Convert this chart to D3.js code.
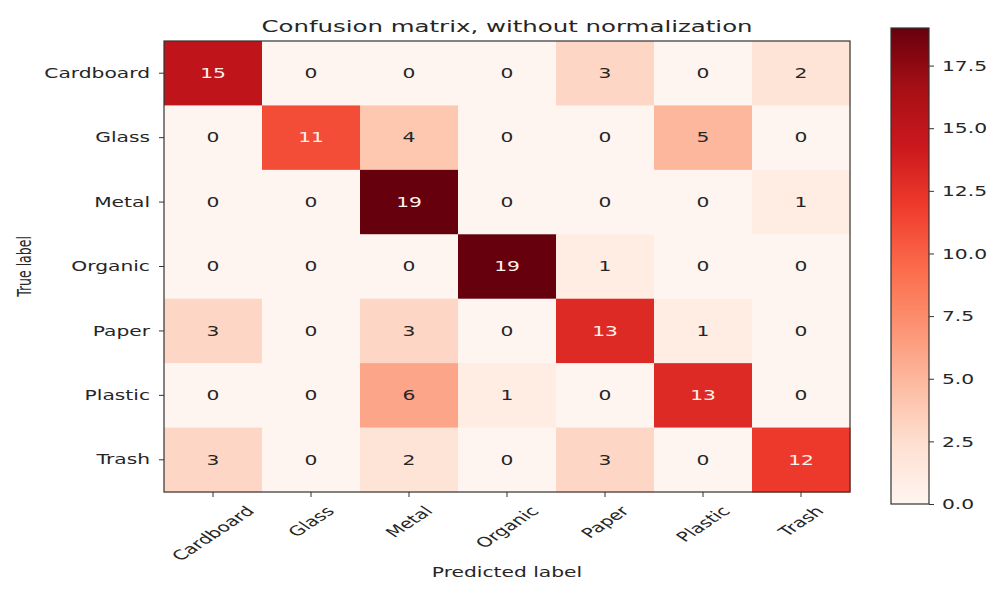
<!DOCTYPE html>
<html>
<head>
<meta charset="utf-8">
<script src="https://cdn.jsdelivr.net/npm/d3@7"></script>
<style>
  body { margin: 0; background: #fff; }
  text { font-family: "DejaVu Sans", sans-serif; fill: #262626; }
</style>
</head>
<body>
<svg id="chart" width="1006" height="600"></svg>
<script>
// class names, same on both axes
const classes = ["Cardboard", "Glass", "Metal", "Organic", "Paper", "Plastic", "Trash"];

// rows = true label, columns = predicted label
const cmCardboard = [15, 0, 0, 0, 3, 0, 2];
const cmGlass     = [0, 11, 4, 0, 0, 5, 0];
const cmMetal     = [0, 0, 19, 0, 0, 0, 1];
const cmOrganic   = [0, 0, 0, 19, 1, 0, 0];
const cmPaper     = [3, 0, 3, 0, 13, 1, 0];
const cmPlastic   = [0, 0, 6, 1, 0, 13, 0];
const cmTrash     = [3, 0, 2, 0, 3, 0, 12];
const matrix = [cmCardboard, cmGlass, cmMetal, cmOrganic, cmPaper, cmPlastic, cmTrash];

const colorTicks = [0, 2.5, 5, 7.5, 10, 12.5, 15, 17.5];

const svg = d3.select("#chart");
const sx = 1.5; // the picture is stretched horizontally
const fs = "13.5px";

const plot = { left: 164, right: 850, top: 41, bottom: 492 };
const bar = { left: 891, right: 929, top: 28, bottom: 504 };

const vmax = d3.max(matrix, r => d3.max(r));

// matplotlib "Reds": linear segments between the 9 brewer colours
const reds = d3.schemeReds[9];
const color = d3.scaleLinear()
  .domain(d3.range(9).map(i => i * vmax / 8))
  .range(reds)
  .interpolate(d3.interpolateRgb)
  .clamp(true);

const x = d3.scaleBand().domain(classes).range([plot.left, plot.right]);
const y = d3.scaleBand().domain(classes).range([plot.top, plot.bottom]);

const cells = [];
matrix.forEach((row, i) => row.forEach((v, j) => cells.push({ t: classes[i], p: classes[j], v })));

svg.append("g")
  .selectAll("rect")
  .data(cells)
  .join("rect")
  .attr("x", d => x(d.p))
  .attr("y", d => y(d.t))
  .attr("width", x.bandwidth() + 0.5)
  .attr("height", y.bandwidth() + 0.5)
  .attr("fill", d => color(d.v));

svg.append("g")
  .selectAll("text")
  .data(cells)
  .join("text")
  .attr("transform", d => `translate(${x(d.p) + x.bandwidth() / 2},${y(d.t) + y.bandwidth() / 2}) scale(${sx},1)`)
  .attr("text-anchor", "middle")
  .attr("dy", "0.35em")
  .style("font-size", fs)
  .style("fill", d => d.v > vmax / 2 ? "#fff0ea" : "#262626")
  .text(d => d.v);

// frame
svg.append("rect")
  .attr("x", plot.left).attr("y", plot.top)
  .attr("width", plot.right - plot.left).attr("height", plot.bottom - plot.top)
  .attr("fill", "none").attr("stroke", "#333").attr("stroke-width", 1.2);

// y axis
const yAxis = svg.append("g")
  .attr("transform", `translate(${plot.left},0)`)
  .call(d3.axisLeft(y).tickSize(5));
yAxis.select(".domain").remove();
yAxis.selectAll("line").attr("stroke", "#333");
yAxis.selectAll("text")
  .attr("x", null).attr("dy", null)
  .attr("transform", `translate(-14,0) scale(${sx},1)`)
  .attr("dominant-baseline", "central")
  .style("font-size", fs).style("font-family", "DejaVu Sans").style("fill", "#262626");

// x axis, labels rotated 45 and centred under the tick
const xAxis = svg.append("g")
  .attr("transform", `translate(0,${plot.bottom})`)
  .call(d3.axisBottom(x).tickSize(5));
xAxis.select(".domain").remove();
xAxis.selectAll("line").attr("stroke", "#333");
xAxis.selectAll("text")
  .attr("y", null).attr("dy", null)
  .attr("text-anchor", "middle")
  .attr("dominant-baseline", "central")
  .style("font-size", fs).style("font-family", "DejaVu Sans").style("fill", "#262626")
  .attr("transform", function () {
    const w = this.getComputedTextLength();
    const h = 13;
    const half = (w + h) * Math.SQRT1_2 / 2;
    return `translate(0,${12 + half}) scale(${sx},1) rotate(-45)`;
  });

// titles
svg.append("text")
  .attr("transform", `translate(${(plot.left + plot.right) / 2},32) scale(${sx},1)`)
  .attr("text-anchor", "middle")
  .style("font-size", "16.3px")
  .text("Confusion matrix, without normalization");

svg.append("text")
  .attr("transform", `translate(${(plot.left + plot.right) / 2},577) scale(${sx},1)`)
  .attr("text-anchor", "middle")
  .style("font-size", fs)
  .text("Predicted label");

svg.append("text")
  .attr("transform", `translate(31,${(plot.top + plot.bottom) / 2}) scale(${sx},1) rotate(-90)`)
  .attr("text-anchor", "middle")
  .style("font-size", "12.5px")
  .text("True label");

// colorbar
const cScale = d3.scaleLinear().domain([0, vmax]).range([bar.bottom, bar.top]);
const defs = svg.append("defs");
const grad = defs.append("linearGradient")
  .attr("id", "cbar").attr("x1", 0).attr("y1", 1).attr("x2", 0).attr("y2", 0);
grad.selectAll("stop")
  .data(d3.range(9))
  .join("stop")
  .attr("offset", d => d / 8)
  .attr("stop-color", d => reds[d]);

svg.append("rect")
  .attr("x", bar.left).attr("y", bar.top)
  .attr("width", bar.right - bar.left).attr("height", bar.bottom - bar.top)
  .attr("fill", "url(#cbar)")
  .attr("stroke", "#333").attr("stroke-width", 1.2);

const cAxis = svg.append("g")
  .attr("transform", `translate(${bar.right},0)`)
  .call(d3.axisRight(cScale).tickValues(colorTicks).tickFormat(d3.format(".1f")).tickSize(5));
cAxis.select(".domain").remove();
cAxis.selectAll("line").attr("stroke", "#333");
cAxis.selectAll("text")
  .attr("x", null).attr("dy", null)
  .attr("transform", `translate(13,0) scale(${sx},1)`)
  .attr("dominant-baseline", "central")
  .style("font-size", fs).style("font-family", "DejaVu Sans").style("fill", "#262626");
</script>
</body>
</html>
